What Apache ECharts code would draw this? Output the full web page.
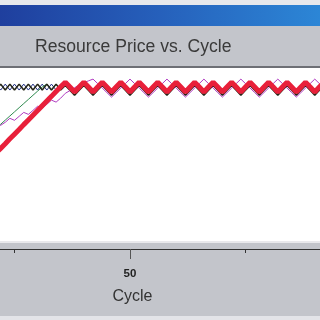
<!DOCTYPE html>
<html>
<head>
<meta charset="utf-8">
<script src="https://cdn.jsdelivr.net/npm/echarts@6/dist/echarts.min.js"></script>
<style>
html,body{margin:0;padding:0;background:#fff;}
#c{width:320px;height:320px;}
</style>
</head>
<body>
<div id="c"></div>
<script>
var titleText = 'Resource Price vs. Cycle';
var xName = 'Cycle';
var cycles = [21,22,23,24,25,26,27,28,29,30,31,32,33,34,35,36,37,38,39,40,41,42,43,44,45,46,47,48,49,50,51,52,53,54,55,56,57,58,59,60,61,62,63,64,65,66,67,68,69,70,71,72,73,74,75,76,77,78,79,80,81,82,83,84,85,86,87,88,89,90,91,92];

var redPrice = [53.3,55.9,58.5,61.2,63.8,66.4,69.1,71.7,74.3,76.9,79.6,82.2,84.8,87.5,90.1,92.7,
 90.0,87.2,90.0,92.7, 90.0,87.2,90.0,92.7, 90.0,87.2,90.0,92.7, 90.0,87.2,90.0,92.7,
 90.0,87.2,90.0,92.7, 90.0,87.2,90.0,92.7, 90.0,87.2,90.0,92.7, 90.0,87.2,90.0,92.7,
 90.0,87.2,90.0,92.7, 90.0,87.2,90.0,92.7, 90.0,87.2,90.0,92.7, 90.0,87.2,90.0,92.7,
 90.0,87.2,90.0,92.7, 90.0,87.2,90.0,92.7];

var blackPrice = [88.3,91.6,88.3,91.6,88.3,91.6,88.3,91.6,88.3,91.6,88.3,91.6,88.3,91.6,88.3,90.9,
 88.2,85.4,88.2,90.9, 88.2,85.4,88.2,90.9, 88.2,85.4,88.2,90.9, 88.2,85.4,88.2,90.9,
 88.2,85.4,88.2,90.9, 88.2,85.4,88.2,90.9, 88.2,85.4,88.2,90.9, 88.2,85.4,88.2,90.9,
 88.2,85.4,88.2,90.9, 88.2,85.4,88.2,90.9, 88.2,85.4,88.2,90.9, 88.2,85.4,88.2,90.9,
 88.2,85.4,88.2,90.9, 88.2,85.4,88.2,90.9];

var navyPrice = [91.6,88.3,91.6,88.3,91.6,88.3,91.6,88.3,91.6,88.3,91.6,88.3,91.6,88.3,91.6,91.3,
 88.6,85.8,88.6,91.3, 88.6,85.8,88.6,91.3, 88.6,85.8,88.6,91.3, 88.6,85.8,88.6,91.3,
 88.6,85.8,88.6,91.3, 88.6,85.8,88.6,91.3, 88.6,85.8,88.6,91.3, 88.6,85.8,88.6,91.3,
 88.6,85.8,88.6,91.3, 88.6,85.8,88.6,91.3, 88.6,85.8,88.6,91.3, 88.6,85.8,88.6,91.3,
 88.6,85.8,88.6,91.3, 88.6,85.8,88.6,91.3];

var greenPrice = [67.0,69.3,71.6,73.9,76.2,78.5,80.8,83.1,85.4,87.7,90.0,91.6,88.3,91.6,88.3,91.3,
 88.6,85.8,88.6,91.3, 88.6,85.8,88.6,91.3, 88.6,85.8,88.6,91.3, 88.6,85.8,88.6,91.3,
 88.6,85.8,88.6,91.3, 88.6,85.8,88.6,91.3, 88.6,85.8,88.6,91.3, 88.6,85.8,88.6,91.3,
 88.6,85.8,88.6,91.3, 88.6,85.8,88.6,91.3, 88.6,85.8,88.6,91.3, 88.6,85.8,88.6,91.3,
 88.6,85.8,88.6,91.3, 88.6,85.8,88.6,91.3];

var purplePrice = [67.6,68.7,70.4,72.6,71.5,73.7,75.9,74.8,77.0,79.3,78.2,80.4,82.7,81.6,83.8,86.5,88.0,89.6,91.0,92.4,93.4,94.4,
 91.9,89.4,86.9,84.4,86.9,89.4,91.9,94.4,
 91.9,89.4,86.9,84.4,86.9,89.4,91.9,94.4,
 91.9,89.4,86.9,84.4,86.9,89.4,91.9,94.4,
 91.9,89.4,86.9,84.4,86.9,89.4,91.9,94.4,
 91.9,89.4,86.9,84.4,86.9,89.4,91.9,94.4,
 91.9,89.4,86.9,84.4,86.9,89.4,91.9,94.4,
 91.9,89.4];

var majorTicks = [50];
var minorTicks = [25, 75];
var xMin = 21.86, xMax = 91.13;

function pairs(vals){ return cycles.map(function(c,i){ return [c, vals[i]]; }); }

var chart = echarts.init(document.getElementById('c'), null, {renderer:'canvas'});
var FONT = '"Liberation Sans", Arial, sans-serif';
chart.setOption({
  animation: false,
  backgroundColor: '#c3c5cb',
  graphic: [
    {type:'rect', z:-5, silent:true, shape:{x:0,y:0,width:320,height:5}, style:{fill:'#e7e8ec'}},
    {type:'rect', z:-5, silent:true, shape:{x:0,y:5,width:320,height:21}, style:{fill:new echarts.graphic.LinearGradient(0,0,1,0,[{offset:0,color:'#1f3f9e'},{offset:0.5,color:'#2660bb'},{offset:1,color:'#2c86d6'}])}},
    {type:'rect', z:-5, silent:true, shape:{x:0,y:66,width:320,height:2}, style:{fill:'#6d6f75'}},
    {type:'rect', z:-5, silent:true, shape:{x:0,y:68,width:320,height:173}, style:{fill:'#ffffff'}},
    {type:'rect', z:-5, silent:true, shape:{x:0,y:241,width:320,height:2}, style:{fill:'#e9e9ec'}},
    {type:'rect', z:-5, silent:true, shape:{x:0,y:316,width:320,height:4}, style:{fill:'#e3e4e8'}},
    {type:'text', z:10, silent:true, style:{text:titleText, x:35, y:47, font:'17.6px ' + FONT, fill:'#3a3a3a', align:'left', verticalAlign:'middle'}},
    {type:'text', z:10, silent:true, style:{text:xName, x:132.5, y:297, font:'16px ' + FONT, fill:'#333333', align:'center', verticalAlign:'middle'}}
  ],
  grid: {left:0, right:0, top:69, bottom:71, containLabel:false},
  xAxis: [{
    type:'value', min:xMin, max:xMax, position:'bottom',
    axisLine:{show:true, onZero:false, lineStyle:{color:'#333', width:1}},
    axisTick:{show:true, length:4, customValues:minorTicks, lineStyle:{color:'#333', width:1}},
    axisLabel:{show:false},
    splitLine:{show:false}
  },{
    type:'value', min:xMin, max:xMax, position:'bottom', offset:0,
    axisLine:{show:false, onZero:false},
    axisTick:{show:true, length:10, customValues:majorTicks, lineStyle:{color:'#555', width:1}},
    axisLabel:{show:true, margin:19, fontSize:11.5, fontWeight:'bold', color:'#222', fontFamily:FONT, customValues:majorTicks},
    splitLine:{show:false}
  }],
  yAxis: {type:'value', min:0, max:100, show:false, splitLine:{show:false}},
  series: [
    {type:'line', name:'navy', data:pairs(navyPrice), symbol:'none', z:2, lineStyle:{color:'#1a2a80', width:1}},
    {type:'line', name:'green', data:pairs(greenPrice), symbol:'none', z:3, lineStyle:{color:'#2e8a4e', width:1}},
    {type:'line', name:'black', data:pairs(blackPrice), symbol:'none', z:4, lineStyle:{color:'#262618', width:1.6}},
    {type:'line', name:'purple', data:pairs(purplePrice), symbol:'none', z:5, lineStyle:{color:'#b03cc0', width:1}},
    {type:'line', name:'red', data:pairs(redPrice), symbol:'none', z:6, lineStyle:{color:'#e8203a', width:5}}
  ]
});
</script>
</body>
</html>
